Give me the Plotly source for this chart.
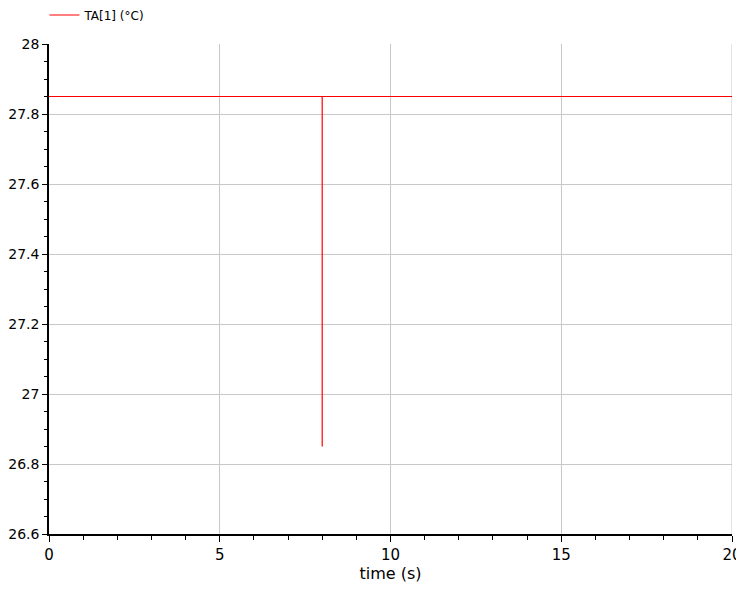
import plotly.graph_objects as go

# simulation output: TA[1] over time
time_s = [0, 8, 8, 8, 20]
ta1 = [27.85, 27.85, 26.85, 27.85, 27.85]

fig = go.Figure()

fig.add_trace(go.Scatter(
    x=time_s,
    y=ta1,
    mode='lines',
    name='TA[1] (°C)',
    line=dict(color='#ff0000', width=1.2),
))

# page body adds an 8px margin, so the figure is sized to fit inside the window
fig.update_layout(
    width=736,
    height=584,
    margin=dict(l=41, r=12, t=36, b=58, autoexpand=False),
    paper_bgcolor='white',
    plot_bgcolor='white',
    font=dict(family='DejaVu Sans', size=14, color='black'),
    showlegend=True,
    legend=dict(
        orientation='h',
        xref='container', x=0.0495, xanchor='left',
        yref='container', y=0.988, yanchor='middle',
        font=dict(size=12),
        itemwidth=30,
        bgcolor='rgba(0,0,0,0)',
    ),
)

fig.update_xaxes(
    range=[0, 20],
    tick0=0, dtick=5,
    showgrid=True, gridcolor='#c8c8c8', gridwidth=1,
    showline=True, linecolor='black', linewidth=1.5,
    ticks='outside', ticklen=6, tickcolor='black',
    minor=dict(dtick=1, ticks='outside', ticklen=4, tickcolor='black', showgrid=False),
    zeroline=False, automargin=False,
    title=dict(text='time (s)', font=dict(size=16), standoff=5),
    tickfont=dict(size=15),
)

fig.update_yaxes(
    range=[26.6, 28],
    tick0=26.6, dtick=0.2,
    showgrid=True, gridcolor='#c8c8c8', gridwidth=1,
    showline=True, linecolor='black', linewidth=1.5,
    ticks='outside', ticklen=5, tickcolor='black',
    minor=dict(dtick=0.05, ticks='outside', ticklen=3, tickcolor='black', showgrid=False),
    zeroline=False, automargin=False,
    tickfont=dict(size=14),
)

# right border gridline at x = 20
fig.add_shape(type='line', xref='x', yref='paper', x0=20, x1=20, y0=0, y1=1,
              line=dict(color='#c8c8c8', width=1), layer='below')

fig.write_html("out.html")
